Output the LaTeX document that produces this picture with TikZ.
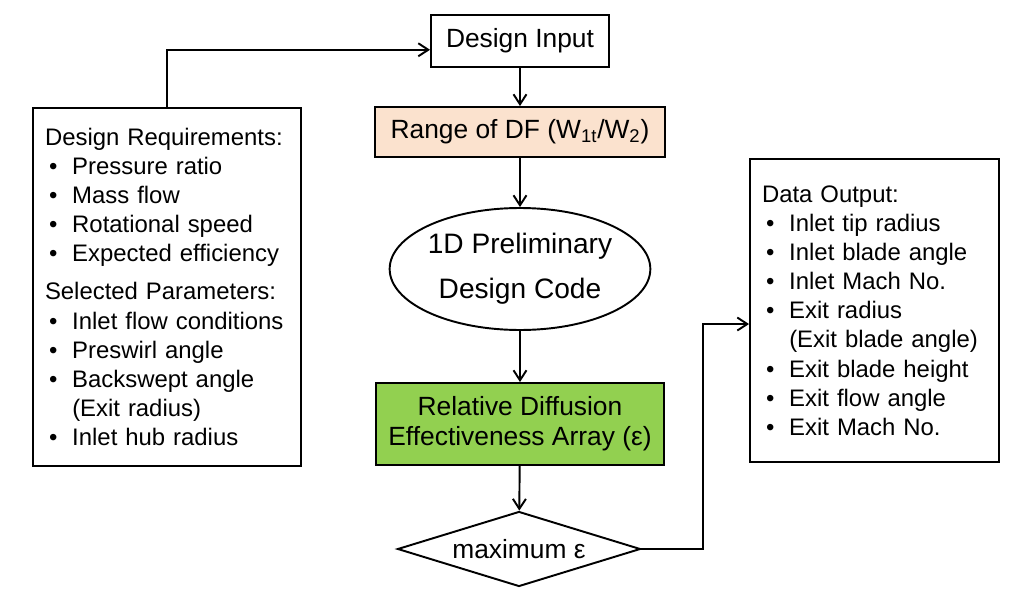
\documentclass[tikz,border=0pt]{standalone}
\usepackage{fontspec}
\setmainfont{Liberation Sans}
\usetikzlibrary{shapes.geometric,arrows.meta}
\definecolor{peach}{RGB}{251,226,206}
\definecolor{leafgreen}{RGB}{146,208,80}
\newcommand{\itm}[1]{\makebox[15.5pt][l]{\hspace{2.3pt}\textbullet}#1}
\newcommand{\cont}[1]{\hspace*{15.5pt}#1}
\begin{document}
\begin{tikzpicture}[x=0.02cm,y=-0.02cm,line width=1.1pt,
  >={Straight Barb[length=2mm,width=2.6mm]},
  every node/.style={font=\fontsize{13.6}{16.6}\selectfont},
  plainbox/.style={draw,align=center,inner sep=0pt,font=\fontsize{15}{17}\selectfont},
  listbox/.style={draw,align=left,inner xsep=0.24cm,inner ysep=0pt}]
 \useasboundingbox (0,0) rectangle (1015,595);
 \node[plainbox,minimum width=3.56cm,minimum height=1.04cm] (input) at (520,41) {Design Input};
 \node[plainbox,fill=peach,minimum width=5.8cm,minimum height=1cm] (range) at (520,132) {Range of DF (W\textsubscript{1t}/W\textsubscript{2})};
 \node[plainbox,ellipse,minimum width=4.84cm,minimum height=2.44cm,font=\fontsize{16}{17}\selectfont] (prelim) at (520,269) {1D Preliminary\\[8.5pt]Design Code};
 \node[plainbox,fill=leafgreen,minimum width=5.76cm,minimum height=1.64cm] (rde) at (520,424) {Relative Diffusion\\Effectiveness Array (ε)};
 \node[plainbox,diamond,shape aspect=3.24,minimum width=4.86cm,minimum height=1.5cm] (maxeps) at (519,549) {maximum ε};
 \node[listbox,text width=4.88cm,minimum height=7.16cm] (req) at (167,287) {Design Requirements:\\
  \itm{Pressure ratio}\\
  \itm{Mass flow}\\
  \itm{Rotational speed}\\
  \itm{Expected efficiency}\\[5pt]
  Selected Parameters:\\
  \itm{Inlet flow conditions}\\
  \itm{Preswirl angle}\\
  \itm{Backswept angle}\\
  \cont{(Exit radius)}\\
  \itm{Inlet hub radius}};
 \node[listbox,text width=4.5cm,minimum height=6.06cm] (out) at (874.5,310.5) {Data Output:\\
  \itm{Inlet tip radius}\\
  \itm{Inlet blade angle}\\
  \itm{Inlet Mach No.}\\
  \itm{Exit radius}\\
  \cont{(Exit blade angle)}\\
  \itm{Exit blade height}\\
  \itm{Exit flow angle}\\
  \itm{Exit Mach No.}};
 \draw[->] (req.north) |- ([yshift=-5pt]input.west);
 \draw[->] (input) -- (range);
 \draw[->] (range) -- (prelim);
 \draw[->] (prelim) -- (rde);
 \draw[->] (rde) -- (maxeps);
 \draw[->] (maxeps.east) -- ++(62,0) |- ([yshift=-7.7pt]out.west);
\end{tikzpicture}
\end{document}
